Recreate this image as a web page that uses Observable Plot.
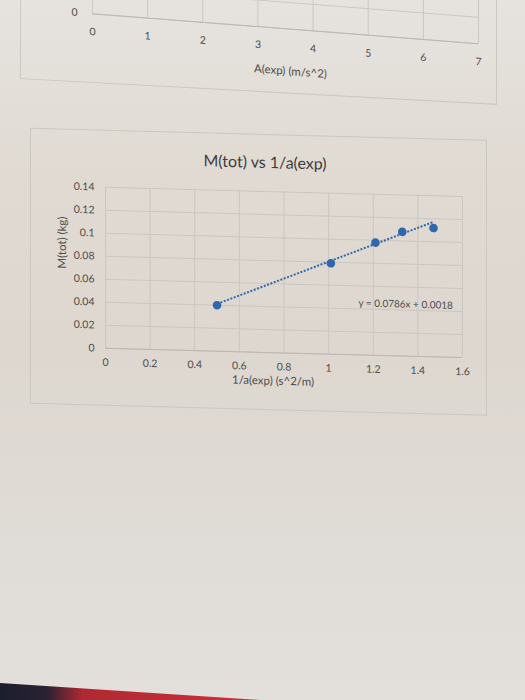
<!DOCTYPE html>
<html><head><meta charset="utf-8">
<script src="https://cdn.jsdelivr.net/npm/d3@7"></script>
<script src="https://cdn.jsdelivr.net/npm/@observablehq/plot@0.6"></script>
<style>
html,body{margin:0;padding:0}
body{width:525px;height:700px;overflow:hidden;position:relative;font-family:Lato,"Open Sans",sans-serif;
background:linear-gradient(180deg,#e6e3df 0%,#e0dad2 25%,#ddd7cf 50%,#e0dcd7 80%,#e3e0dc 100%);}
.layer{position:absolute;left:0;top:0;width:525px;transform-origin:0 0;}
.box{position:absolute;border:1px solid #ccc7c0;box-sizing:border-box;}
.title{position:absolute;left:0;width:530px;text-align:center;font-size:16px;line-height:20px;color:#3e3e3e;}
.desk{position:absolute;left:0;top:680px;width:260px;height:20px;
clip-path:polygon(0 3px,260px 20px,0 20px);
background:linear-gradient(90deg,#1b1e2e 0%,#2a2233 18%,#b02932 32%,#c7323a 100%);}
svg{overflow:visible}
</style></head><body>
<div class="layer" style="transform:skewY(3.1deg)"><div class="box" style="left:20px;top:-60px;width:477px;height:138px"></div></div>
<div id="top" class="layer" style="top:-60px;transform:skewY(4.45deg)"></div>
<div id="main" class="layer" style="transform:skewY(1.5deg)">
  <div class="box" style="left:30px;top:127px;width:457px;height:276px"></div>
  <div class="title" style="top:145px">M(tot) vs 1/a(exp)</div>
  <div id="chart" style="position:absolute;left:0;top:0"></div>
</div>
<div class="desk"></div>
<script>
// ---- upper (partially visible) chart ----
const topXTicks = [0, 1, 2, 3, 4, 5, 6, 7];
const topYGrid = [0, 0.02, 0.04];
const topYTicks = [0];
const topXLabel = "A(exp) (m/s^2)";

// ---- main chart: M(tot) vs 1/a(exp) ----
const invA = [0.5, 1.01, 1.21, 1.33, 1.47];       // 1/a(exp) (s^2/m)
const mTot = [0.040, 0.079, 0.098, 0.108, 0.112]; // M(tot) (kg)
const xTicks = [0, 0.2, 0.4, 0.6, 0.8, 1, 1.2, 1.4, 1.6];
const yTicks = [0, 0.02, 0.04, 0.06, 0.08, 0.1, 0.12, 0.14];
const slope = 0.0786, intercept = 0.0018;
const eqText = "y = 0.0786x + 0.0018";
const xLabel = "1/a(exp) (s^2/m)";
const yLabel = "M(tot) (kg)";

const points = invA.map((x, i) => ({x, y: mTot[i]}));
const trendX = [d3.min(invA), d3.max(invA)];
const trend = trendX.map(x => ({x, y: slope * x + intercept}));
const fmt = d => String(+d.toFixed(2));
const gridColor = "#cbc6bf";
const textColor = "#4d4d4d";
const font = "Lato, 'Open Sans', sans-serif";

const topPlot = Plot.plot({
  width: 525, height: 140,
  marginTop: 0, marginBottom: 74, marginLeft: 92, marginRight: 47,
  x: {domain: [0, 7]}, y: {domain: [0, 0.05]},
  style: {background: "transparent", color: textColor, fontFamily: font, fontSize: "10.5px", overflow: "visible"},
  marks: [
    Plot.gridX(topXTicks, {stroke: gridColor, strokeOpacity: 1}),
    Plot.gridY(topYGrid, {stroke: gridColor, strokeOpacity: 1}),
    Plot.ruleY([0], {stroke: "#bdb7af"}),
    Plot.axisX(topXTicks, {tickSize: 0, tickPadding: 14, label: null}),
    Plot.axisY(topYTicks, {tickSize: 0, tickPadding: 15, label: null, tickFormat: fmt}),
    Plot.text([topXLabel], {frameAnchor: "bottom", dy: 46, dx: 5, fontSize: 11.5, fill: textColor})
  ]
});
document.getElementById("top").appendChild(topPlot);

const mainPlot = Plot.plot({
  width: 525, height: 400,
  marginTop: 184, marginBottom: 55, marginLeft: 105, marginRight: 63,
  x: {domain: [0, 1.6]}, y: {domain: [0, 0.14]},
  style: {background: "transparent", color: textColor, fontFamily: font, fontSize: "10.5px", overflow: "visible"},
  marks: [
    Plot.gridX(xTicks, {stroke: gridColor, strokeOpacity: 1}),
    Plot.gridY(yTicks, {stroke: gridColor, strokeOpacity: 1}),
    Plot.ruleY([0], {stroke: "#bdb7af"}),
    Plot.axisX(xTicks, {tickSize: 0, tickPadding: 10, tickFormat: fmt, label: null}),
    Plot.axisY(yTicks, {tickSize: 0, tickPadding: 11, tickFormat: fmt, label: null}),
    Plot.line(trend, {x: "x", y: "y", stroke: "#2f67ad", strokeWidth: 2, strokeDasharray: "2,1.6", strokeLinecap: "butt"}),
    Plot.dot(points, {x: "x", y: "y", r: 4.3, fill: "#2f67ad"}),
    Plot.text([eqText], {x: 1.345, y: 0.045, fontSize: 10, fill: textColor}),
    Plot.text([xLabel], {frameAnchor: "bottom", dy: 32, dx: -11, fontSize: 11.5, fill: textColor}),
    Plot.text([yLabel], {frameAnchor: "left", dx: -43, dy: 2, rotate: -90, fontSize: 11.5, fill: textColor})
  ]
});
document.getElementById("chart").appendChild(mainPlot);
</script>
</body></html>
